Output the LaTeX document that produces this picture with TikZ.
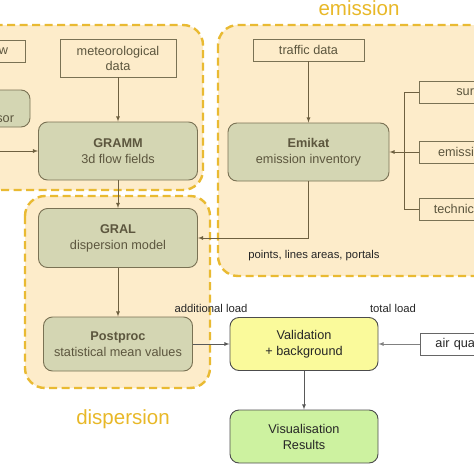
\documentclass[tikz,border=0pt]{standalone}
\usepackage{fontspec}
\setmainfont{Liberation Sans}
\usetikzlibrary{shapes.geometric, arrows}
\definecolor{groupfill}{RGB}{253,236,202}
\definecolor{groupline}{RGB}{233,186,50}
\definecolor{modelfill}{RGB}{212,214,179}
\definecolor{modelline}{RGB}{122,114,84}
\definecolor{inktext}{RGB}{92,86,62}
\definecolor{linkline}{RGB}{110,96,64}
\definecolor{checkfill}{RGB}{250,250,155}
\definecolor{resultfill}{RGB}{205,242,160}
\definecolor{labelgold}{RGB}{232,184,40}
\tikzstyle{group} = [fill=groupfill, draw=groupline, line width=2.4pt,
    dash pattern=on 8pt off 4.5pt, rounded corners=20pt]
\tikzstyle{model} = [rectangle, rounded corners=9pt, fill=modelfill,
    draw=modelline, line width=0.9pt, text=inktext, align=center,
font=\fontsize{12.7}{16}\selectfont, inner sep=0pt]
\tikzstyle{data} = [rectangle, draw=modelline, line width=0.9pt,
text=inktext, align=center, font=\fontsize{12.7}{15}\selectfont, inner sep=0pt]
\tikzstyle{cutdata} = [data, text width=52pt, align=right, inner xsep=3pt,
minimum height=22pt]
\tikzstyle{output} = [model, draw=black!70, text=black!85]
\tikzstyle{arrow} = [line width=0.8pt, draw=linkline, ->, >=latex]
\tikzstyle{link} = [line width=0.8pt, draw=linkline]
\tikzstyle{note} = [font=\fontsize{11.3}{13}\selectfont, text=black!85]
\tikzstyle{grouptitle} = [font=\fontsize{20.5}{24}\selectfont, text=labelgold]

\begin{document}
\begin{tikzpicture}[x=1pt, y=-1pt]
            \useasboundingbox (0,0) rectangle (474,474);
            \clip (0,0) rectangle (474,474);
            % Groups
            \draw[group] (-25,25) rectangle (203,190);
            \draw[group] (218,25) rectangle (510,276);
            \draw[group] (25,196) rectangle (210,388);
            \node[grouptitle] (emtitle) at (359,8) {emission};
            \node[grouptitle] (disptitle) at (123,419) {dispersion};
            % Inputs
            \node[data, text width=48pt, align=right, inner xsep=17pt,
            minimum height=22pt] (flow) at (-16,51) {w};
            \node[model, text width=50pt, align=right, inner xsep=16pt,
            minimum height=37pt] (preproc) at (-11,108.5) {\strut\\sor};
            \node[data, minimum width=116pt, minimum height=38pt] (meteo)
            at (118,58) {meteorological\\data};
            \node[data, minimum width=111pt, minimum height=22pt] (traffic)
            at (308.5,50) {traffic data};
            \node[cutdata] (surveys) at (448,92) {sur};
            \node[cutdata] (factors) at (448,152) {emissi};
            \node[cutdata] (technical) at (448,209) {technic};
            \node[cutdata, draw=black!60, text=black!85] (airq) at (449,344)
            {air qua};
            % Models
            \node[model, minimum width=159pt, minimum height=58pt] (gramm)
            at (118,151) {\textbf{GRAMM}\\3d flow fields};
            \node[model, minimum width=159pt, minimum height=59pt] (gral)
            at (118,238) {\textbf{GRAL}\\dispersion model};
            \node[model, minimum width=149pt, minimum height=54pt] (postproc)
            at (118,344) {\textbf{Postproc}\\statistical mean values};
            \node[model, minimum width=161pt, minimum height=58pt] (emikat)
            at (308.5,152) {\textbf{Emikat}\\emission inventory};
            \node[output, fill=checkfill, minimum width=148pt,
            minimum height=53pt] (valid) at (304,344) {Validation\\+ background};
            \node[output, fill=resultfill, minimum width=148pt,
            minimum height=53pt] (visual) at (304,436.5) {Visualisation\\Results};
            % Labels
            \node[note] (sources) at (314,256) {points, lines areas, portals};
            \node[note] (addload) at (211,308) {additional load};
            \node[note] (totload) at (393,308) {total load};
            % Arrows
            \coordinate (leftin) at (-5,151);
            \coordinate (brk) at (404,0);
            \draw[arrow] (leftin) -- (gramm.west);
            \draw[arrow] (meteo) -- (gramm);
            \draw[arrow] (gramm) -- (gral);
            \draw[arrow] (gral) -- (postproc);
            \draw[arrow] (traffic) -- (emikat);
            \draw[link] (surveys.west) -- (surveys.west -| brk)
            -- (technical.west -| brk) -- (technical.west);
            \draw[arrow] (factors) -- (emikat);
            \draw[arrow] (emikat.south) |- (gral.east);
            \draw[arrow, draw=black!65] (postproc) -- (valid);
            \draw[arrow, draw=black!50] (airq) -- (valid);
            \draw[arrow, draw=black!65] (valid) -- (visual);
        \end{tikzpicture}
\end{document}
